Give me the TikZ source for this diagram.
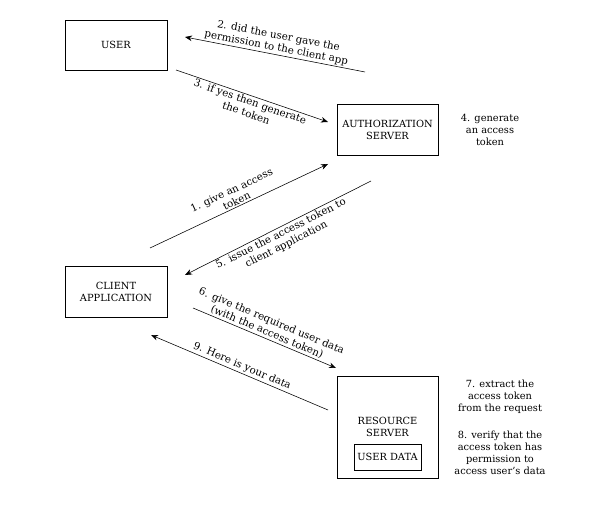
\documentclass[tikz,border=0pt]{standalone}
\usepackage{fontspec}
\setmainfont{DejaVu Serif}
\usetikzlibrary{arrows.meta}
\begin{document}
\begin{tikzpicture}
    [%%%%%%%%%%%%%%%%%%%%%%%%%%%%%%
        x=0.025cm, y=-0.025cm,
        box/.style={rectangle,draw=black, inner sep=0pt, align=center, font=\fontsize{7}{8.5}\selectfont},
        msg/.style={-{Stealth[length=5pt,width=4pt]}},
        lbl/.style={midway, sloped, align=center, inner sep=1pt, font=\fontsize{7.3}{8.5}\selectfont},
        note/.style={align=center, font=\fontsize{7}{8.5}\selectfont},
    ]%%%%%%%%%%%%%%%%%%%%%%%%%%%%%%
\useasboundingbox (0,0) rectangle (610,510);
\node[box, minimum width=102*0.025cm, minimum height=50*0.025cm] (user) at (116,45) {USER};
\node[box, minimum width=101*0.025cm, minimum height=51*0.025cm] (auth) at (387.5,129.5) {AUTHORIZATION\\SERVER};
\node[box, minimum width=102*0.025cm, minimum height=51*0.025cm] (client) at (116,291.5) {CLIENT\\APPLICATION};
\node[box, minimum width=101*0.025cm, minimum height=102*0.025cm] (res) at (387.5,427) {};
\node[note] (restext) at (387.5,427) {RESOURCE\\SERVER};
\node[box, minimum width=67*0.025cm, minimum height=26*0.025cm] (data) at (387.5,457) {USER DATA};

\coordinate (a2) at (365,72);  \coordinate (b2) at (185,37);
\coordinate (a3) at (176,70);  \coordinate (b3) at (328,122);
\coordinate (a1) at (150,248); \coordinate (b1) at (328,164);
\coordinate (a5) at (371,181); \coordinate (b5) at (185,275);
\coordinate (a6) at (193,308); \coordinate (b6) at (336,368);
\coordinate (a9) at (328,410); \coordinate (b9) at (151,335);

\draw[msg] (a2) -- (b2) node[lbl, above] {2. did the user gave the\\permission to the client app};
\draw[msg] (a3) -- (b3) node[lbl, below] {3. if yes then generate\\the token};
\draw[msg] (a1) -- (b1) node[lbl, above] {1. give an access\\token};
\draw[msg] (a5) -- (b5) node[lbl, below] {5. issue the access token to\\client application};
\draw[msg] (a6) -- (b6) node[lbl, above] {6. give the required user data\\(with the access token)};
\draw[msg] (a9) -- (b9) node[lbl, above] {9. Here is your data};

\node[note] (n4) at (490,130) {4. generate\\an access\\token};
\node[note] (n7) at (500,397) {7. extract the\\access token\\from the request};
\node[note] (n8) at (500,453) {8. verify that the\\access token has\\permission to\\access user's data};
\end{tikzpicture}
\end{document}
